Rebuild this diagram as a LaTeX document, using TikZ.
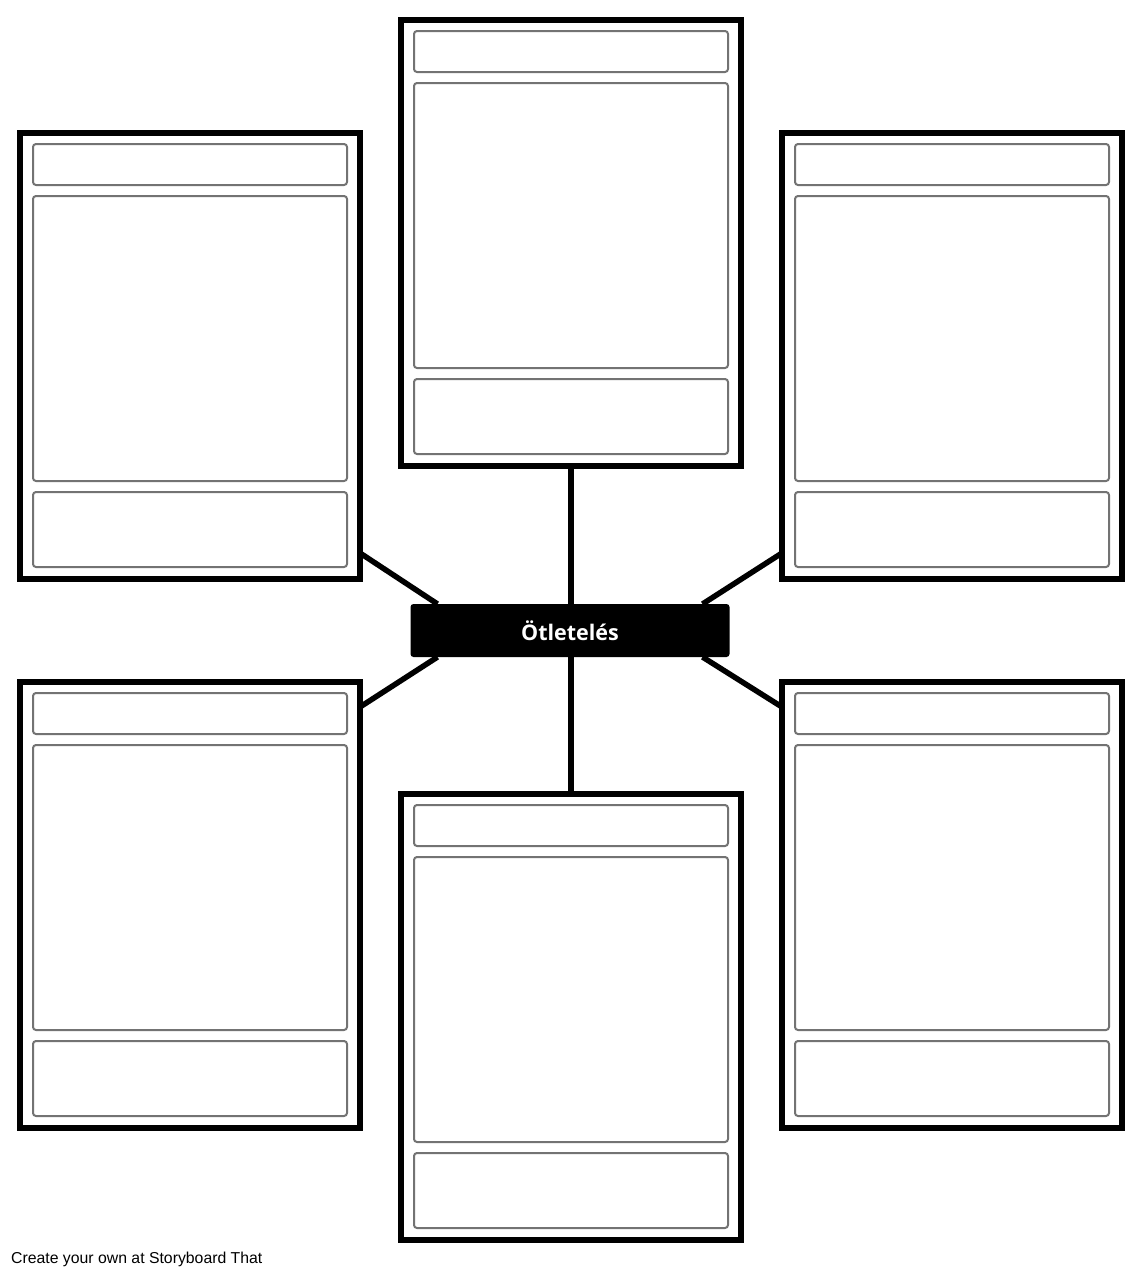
\documentclass[tikz,border=0pt]{standalone}
\usepackage{fontspec}
\setmainfont{Liberation Sans}
\newfontfamily\titlefont{Open Sans}
\usetikzlibrary{positioning}

\begin{document}
\begin{tikzpicture}[x=1pt,y=-1pt]
\useasboundingbox (0,0) rectangle (1143,1278);

\tikzstyle{frame}=[rectangle, draw, line width=5.5pt, outer sep=0pt,
    minimum width=340pt, minimum height=446pt, inner sep=0pt]
\tikzstyle{tbox}=[rectangle, draw=black!55, line width=2pt, rounded corners=3pt,
    outer sep=0pt, inner sep=0pt, minimum width=314pt, minimum height=41pt]
\tikzstyle{mbox}=[tbox, minimum height=285pt]
\tikzstyle{bbox}=[tbox, minimum height=75pt]
\tikzstyle{spoke}=[line width=5.5pt]

% centre
\node[rectangle, fill=black, rounded corners=3pt, outer sep=0pt,
    minimum width=319pt, minimum height=53pt, text=white,
    font=\titlefont\bfseries\fontsize{21.5}{24}\selectfont] (c) at (570,630.5) {Ötletelés};

% top
\node[frame] (f1) at (571,243) {};
\node[tbox, below=11pt of f1.north] (t1) {};
\node[mbox, below=11pt of t1] (m1) {};
\node[bbox, below=11pt of m1] (b1) {};

% top left
\node[frame] (f2) at (190,356) {};
\node[tbox, below=11pt of f2.north] (t2) {};
\node[mbox, below=11pt of t2] (m2) {};
\node[bbox, below=11pt of m2] (b2) {};

% top right
\node[frame] (f3) at (952,356) {};
\node[tbox, below=11pt of f3.north] (t3) {};
\node[mbox, below=11pt of t3] (m3) {};
\node[bbox, below=11pt of m3] (b3) {};

% bottom left
\node[frame] (f4) at (190,905) {};
\node[tbox, below=11pt of f4.north] (t4) {};
\node[mbox, below=11pt of t4] (m4) {};
\node[bbox, below=11pt of m4] (b4) {};

% bottom right
\node[frame] (f5) at (952,905) {};
\node[tbox, below=11pt of f5.north] (t5) {};
\node[mbox, below=11pt of t5] (m5) {};
\node[bbox, below=11pt of m5] (b5) {};

% bottom
\node[frame] (f6) at (571,1017) {};
\node[tbox, below=11pt of f6.north] (t6) {};
\node[mbox, below=11pt of t6] (m6) {};
\node[bbox, below=11pt of m6] (b6) {};

% spokes
\draw[spoke] (f1.south) -- (f1.south |- c.north);
\draw[spoke] (f6.north) -- (f6.north |- c.south);
\draw[spoke] ([yshift=26pt]f2.south east) -- ([xshift=27pt]c.north west);
\draw[spoke] ([yshift=26pt]f3.south west) -- ([xshift=-27pt]c.north east);
\draw[spoke] ([yshift=-25pt]f4.north east) -- ([xshift=27pt]c.south west);
\draw[spoke] ([yshift=-25pt]f5.north west) -- ([xshift=-27pt]c.south east);

\node[anchor=west, inner sep=0pt, font=\fontsize{15.8}{18}\selectfont] (credit) at (11,1259) {Create your own at Storyboard That};
\end{tikzpicture}
\end{document}
